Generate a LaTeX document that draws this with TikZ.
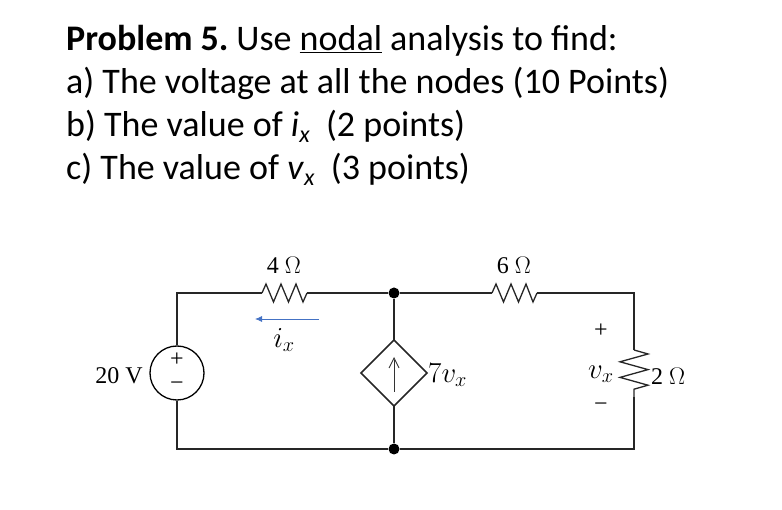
\documentclass[tikz,border=0pt]{standalone}
\usepackage{fix-cm}
\usepackage{fontspec}
\usetikzlibrary{shapes.geometric,arrows.meta}
\setmainfont{Carlito}
\newfontfamily\ser{Liberation Serif}
\begin{document}
\begin{tikzpicture}[x=1pt,y=-1pt,
  wire/.style={line width=1.3pt,black!85},
  lbl/.style={font=\ser\fontsize{24}{24}\selectfont,inner sep=0pt},
  mlbl/.style={font=\fontsize{29}{29}\selectfont,inner sep=0pt},
  ttl/.style={font=\fontsize{36}{36}\selectfont,anchor=base west,inner sep=0pt},
  dot/.style={circle,fill=black,inner sep=0pt,minimum size=11pt}]
\useasboundingbox (0,0) rectangle (782,510);
\node[ttl] (t1) at (66,51) {\textbf{Problem 5.}\hspace{-3pt} Use \underline{nodal} analysis to find:};
\node[ttl] (t2) at (66,94) {a) The voltage at all the nodes (10 Points)};
\node[ttl] (t3) at (66,137) {b) The value of \textit{i}\raisebox{-6pt}{\textit{\fontsize{24}{24}\selectfont x}}\ \ (2 points)};
\node[ttl] (t4) at (66,180) {c) The value of \textit{v}\raisebox{-6pt}{\textit{\fontsize{24}{24}\selectfont x}}\ \ (3 points)};
\coordinate (tl) at (177,293); \coordinate (bl) at (177,449);
\coordinate (tr) at (634,293); \coordinate (br) at (634,449);
\node[dot] (nt) at (394,293) {}; \node[dot] (nb) at (394,449) {};
\node[circle,draw,line width=1.3pt,minimum size=54pt,inner sep=0pt] (vs) at (177,373) {};
\coordinate (cn) at (394,340); \coordinate (cs) at (394,406);
\draw[line width=1.6pt,black!85] (cn) -- (427,373) -- (cs) -- (361,373) -- cycle;
\coordinate (r4a) at (262,293); \coordinate (r4b) at (307,293);
\coordinate (r6a) at (492,293); \coordinate (r6b) at (537,293);
\coordinate (r2a) at (634,350); \coordinate (r2b) at (634,397);
\draw[wire] (vs.north) -- (tl) -- (r4a);
\draw[wire] (r4a) -- ++(4,-9) -- ++(7.5,18) -- ++(7.5,-18) -- ++(7.5,18) -- ++(7.5,-18) -- ++(7,18) -- (r4b);
\draw[wire] (r4b) -- (nt) -- (r6a);
\draw[wire] (r6a) -- ++(4,-9) -- ++(7.5,18) -- ++(7.5,-18) -- ++(7.5,18) -- ++(7.5,-18) -- ++(7,18) -- (r6b);
\draw[wire] (r6b) -- (tr) -- (r2a);
\draw[wire] (r2a) -- ++(14,4) -- ++(-28,7.8) -- ++(28,7.8) -- ++(-28,7.8) -- ++(28,7.8) -- ++(-14,4) -- (r2b);
\draw[wire] (r2b) -- (br) -- (nb) -- (bl) -- (vs.south);
\draw[wire] (nt) -- (cn); \draw[wire] (cs) -- (nb);
\draw[line width=0.9pt,black!80] (394,392) -- (394,360);
\draw[line width=0.9pt,black!80] (389,368) -- (394,358) -- (399,368);
\node[lbl] (p1) at (177,360) {+};
\node[lbl] (m1) at (177,386) {\textminus};
\draw[-{Latex[length=7pt,width=6pt]},line width=0.8pt,color={rgb,255:red,68;green,114;blue,196}] (319,319) -- (255,319);
\node[mlbl] (ix) at (284,340) {$i_x$};
\node[mlbl,anchor=west] (v7) at (428,375) {$7v_x$};
\node[lbl] (pp) at (601,331) {+};
\node[mlbl] (vx) at (601,374) {$v_x$};
\node[lbl] (mm) at (601,407) {\textminus};
\node[lbl] (l20) at (119,376) {20 V};
\node[lbl,anchor=west] (l2) at (651,376) {2 $\Omega$};
\node[lbl] (l4) at (284,265) {4 $\Omega$};
\node[lbl] (l6) at (514,265) {6 $\Omega$};
\end{tikzpicture}
\end{document}
